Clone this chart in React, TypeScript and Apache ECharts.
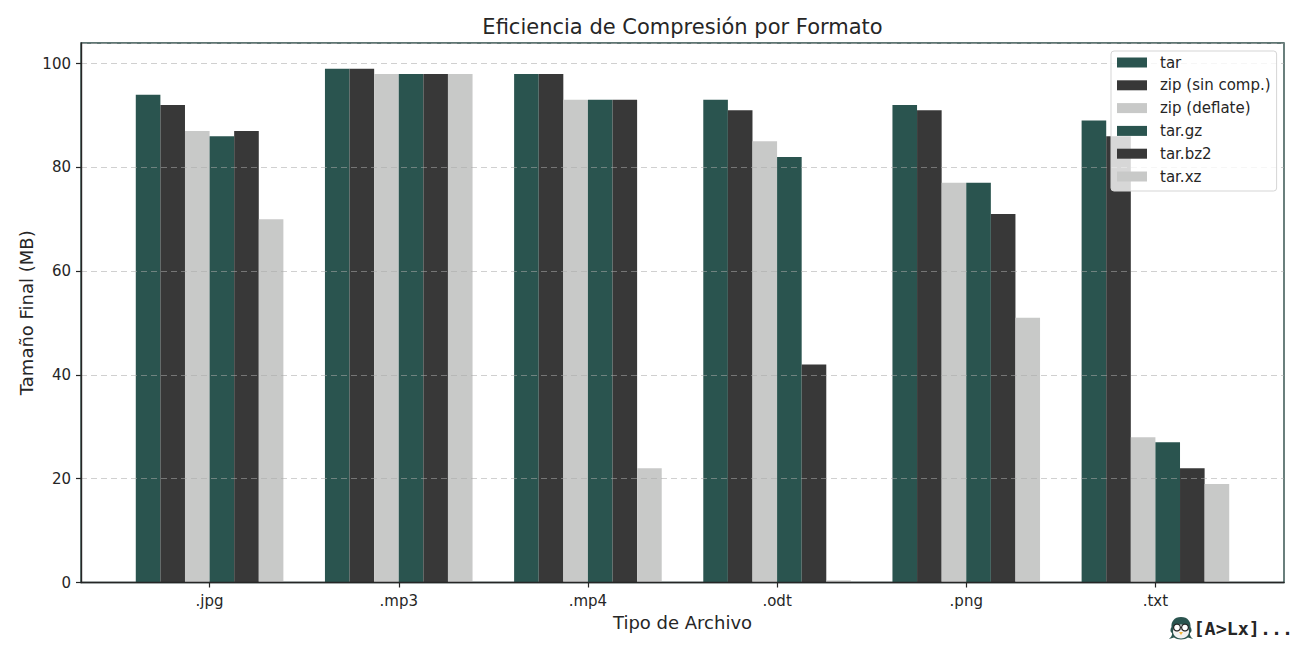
import React, { useEffect, useRef } from "react";
import * as echarts from "echarts";

const categories = [".jpg", ".mp3", ".mp4", ".odt", ".png", ".txt"];
const seriesNames = ["tar", "zip (sin comp.)", "zip (deflate)", "tar.gz", "tar.bz2", "tar.xz"];
const tarValues = [94, 99, 98, 93, 92, 89];
const zipStoreValues = [92, 99, 98, 91, 91, 86];
const zipDeflateValues = [87, 98, 93, 85, 77, 28];
const tarGzValues = [86, 98, 93, 82, 77, 27];
const tarBz2Values = [87, 98, 93, 42, 71, 22];
const tarXzValues = [70, 98, 22, 0.4, 51, 19];
const allValues = [tarValues, zipStoreValues, zipDeflateValues, tarGzValues, tarBz2Values, tarXzValues];
const colors = ["#2a544f", "#383838", "#c8c9c8", "#2a544f", "#383838", "#c8c9c8"];
const FONT = "DejaVu Sans";
const INK = "#262626";

const penguinBody = "M12 0C5 0 2 5 2.5 10C1 12 1 15 3 16C3.5 19 1 21 0 22L5 20.5C8 23 16 23 19 20.5L24 22C23 21 20.5 19 21 16C23 15 23 12 21.5 10C22 5 19 0 12 0Z";

export default function App() {
  const ref = useRef<HTMLDivElement>(null);
  useEffect(() => {
    const chart = echarts.init(ref.current!, undefined, { renderer: "svg" });
    echarts.graphic.registerShape("penguinBody", echarts.graphic.extendPath(penguinBody as any, {}) as any);
    chart.setOption({
      animation: false,
      backgroundColor: "#ffffff",
      title: {
        text: "Eficiencia de Compresión por Formato",
        left: 677.5,
        top: 11,
        textAlign: "center",
        textStyle: { fontFamily: FONT, fontSize: 21, fontWeight: "normal", color: INK },
      },
      legend: {
        data: seriesNames,
        orient: "vertical",
        left: 1111,
        top: 51,
        z: 10,
        padding: [4, 6, 7, 6],
        itemWidth: 30,
        itemHeight: 10,
        itemGap: 7.8,
        icon: "rect",
        backgroundColor: "rgba(255,255,255,0.8)",
        borderColor: "#d5d5d5",
        borderWidth: 1,
        borderRadius: 3,
        textStyle: { fontFamily: FONT, fontSize: 15, color: INK, padding: [0, 0, 0, 8] },
      },
      grid: [
        { left: 81, right: 16, top: 43, bottom: 67.5, show: true, borderColor: "#2b4a46", borderWidth: 1.4, backgroundColor: "transparent" },
        { left: 115, right: 50, top: 43, bottom: 67.5 },
      ],
      xAxis: [
        {
          gridIndex: 0,
          type: "value",
          min: 0,
          max: 1,
          z: 5,
          axisLine: { show: true, lineStyle: { color: "#262626", width: 1.4 } },
          axisTick: { show: false },
          axisLabel: { show: false },
          splitLine: { show: false },
        },
        {
          gridIndex: 1,
          type: "category",
          data: categories,
          name: "Tipo de Archivo",
          nameLocation: "middle",
          nameGap: 31,
          nameTextStyle: { fontFamily: FONT, fontSize: 18, color: INK },
          axisLine: { show: false },
          axisTick: { show: true, alignWithLabel: true, length: 5, lineStyle: { color: INK, width: 1.2 } },
          axisLabel: { fontFamily: FONT, fontSize: 15, color: INK, margin: 11 },
        },
      ],
      yAxis: [
        {
          gridIndex: 0,
          type: "value",
          min: 0,
          max: 103.95,
          interval: 20,
          z: 5,
          name: "Tamaño Final (MB)",
          nameLocation: "middle",
          nameGap: 46,
          nameMoveOverlap: false,
          nameTextStyle: { fontFamily: FONT, fontSize: 18, color: INK },
          axisLine: { show: true, lineStyle: { color: "#262626", width: 1.4 } },
          axisTick: { show: true, length: 5, lineStyle: { color: INK, width: 1.2 } },
          axisLabel: { fontFamily: FONT, fontSize: 15, color: INK, margin: 10, showMaxLabel: false },
          splitLine: { show: true, lineStyle: { color: "rgba(170,170,170,0.55)", type: [6, 4], width: 1 } },
        },
        { gridIndex: 1, type: "value", min: 0, max: 103.95, show: false, splitLine: { show: false } },
      ],
      series: seriesNames.map((name, i) => ({
        name,
        type: "bar",
        xAxisIndex: 1,
        yAxisIndex: 1,
        data: allValues[i],
        barWidth: 24.6,
        barGap: "0%",
        itemStyle: { color: colors[i] },
      })),
      graphic: [
        {
          type: "group",
          x: 1169,
          y: 617,
          children: [
            { type: "penguinBody", x: 0, y: 0, scaleX: 1, scaleY: 1, style: { fill: "#2a544f" } },
            { type: "ellipse", shape: { cx: 12, cy: 14.5, rx: 8, ry: 7 }, style: { fill: "#f2f2f2" } },
            { type: "circle", shape: { cx: 8, cy: 10.5, r: 3.4 }, style: { fill: "#ffffff", stroke: "#222222", lineWidth: 1.2 } },
            { type: "circle", shape: { cx: 16, cy: 10.5, r: 3.4 }, style: { fill: "#ffffff", stroke: "#222222", lineWidth: 1.2 } },
            { type: "polygon", shape: { points: [[10, 15], [14, 15], [12, 18]] }, style: { fill: "#f5b63c" } },
          ],
        },
        {
          type: "text",
          x: 1193.5,
          y: 619.5,
          style: {
            text: "[A>Lx]...",
            fontFamily: "DejaVu Sans Mono",
            fontWeight: "bold",
            fontSize: 18.4,
            fill: "#262626",
          },
        },
      ],
    });
    return () => chart.dispose();
  }, []);
  return <div ref={ref} style={{ width: 1300, height: 650, position: "fixed", left: 0, top: 0 }} />;
}
